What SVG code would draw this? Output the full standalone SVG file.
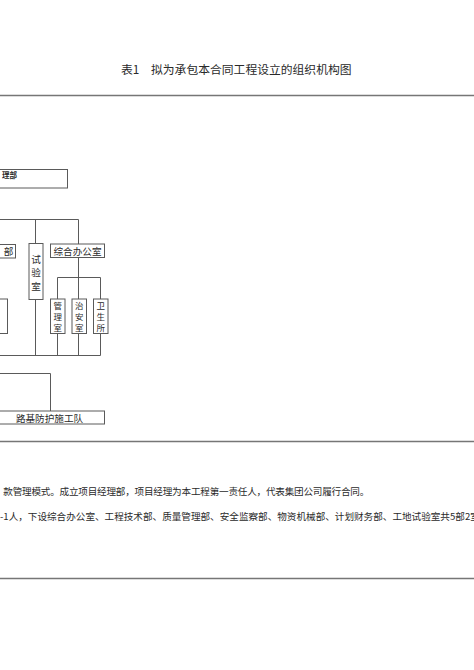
<svg xmlns="http://www.w3.org/2000/svg" width="474" height="670" viewBox="0 0 474 670">
<style>
.bg{fill:#fff}
.sep{stroke:#767676;stroke-width:1.6;fill:none}
.box{fill:#fff;stroke:#5a5a5a;stroke-width:1}
.ln{stroke:#5a5a5a;stroke-width:1;fill:none}
.t{font-family:"Noto Sans CJK SC","Noto Sans CJK JP",sans-serif;fill:#2a2a2a}
.title{font-size:11.8px}
.body{font-size:9.6px}
.lbl{font-size:9.6px;text-anchor:middle;dominant-baseline:central}
.vl{font-size:8.5px;text-anchor:middle;dominant-baseline:central}
.vb{font-size:9.6px;text-anchor:middle;dominant-baseline:central}
</style>
<rect class="bg" x="0" y="0" width="474" height="670"/>
<text class="t title" x="121" y="74">表1<tspan x="151">拟为承包本合同工程设立的组织机构图</tspan></text>
<g id="separators">
<line class="sep" x1="0" y1="95.5" x2="474" y2="95.5"/>
<line class="sep" x1="0" y1="441.5" x2="474" y2="441.5"/>
<line class="sep" x1="0" y1="578.5" x2="474" y2="578.5"/>
</g>
<g id="connectors">
<path class="ln" d="M0 219.5H78.5M35.5 219.5V243.5M78.5 219.5V244.5M78.5 257.5V299M57.5 277.5H100.5M57.5 277.5V299M100.5 277.5V299M35.5 299.5V355.5M57.5 333.5V355.5M78.5 333.5V355.5M100.5 333.5V355.5M0 355.5H100.5M0 373.5H50.5M50.5 373.5V411"/>
</g>
<g id="node-pm">
<rect class="box" x="-2" y="169.5" width="69.5" height="18.5"/>
<text class="t" x="17" y="178" font-size="7.5" font-weight="bold" text-anchor="end">理部</text>
</g>
<g id="node-dept-left">
<rect class="box" x="-30" y="244.5" width="45.5" height="13.5"/>
<text class="t lbl" x="8.5" y="251.3">部</text>
</g>
<g id="node-left-lower">
<rect class="box" x="-30" y="299" width="37.5" height="34.5"/>
</g>
<g id="node-lab">
<rect class="box" x="29" y="243.5" width="14" height="56"/>
<text class="t vb" x="36" y="259">试</text>
<text class="t vb" x="36" y="272.3">验</text>
<text class="t vb" x="36" y="285.6">室</text>
</g>
<g id="node-office">
<rect class="box" x="50.5" y="244" width="54" height="13.5"/>
<text class="t lbl" x="77.5" y="250.8">综合办公室</text>
</g>
<g id="node-mgmt">
<rect class="box" x="50.5" y="299" width="14.5" height="34.5"/>
<text class="t vl" x="57.8" y="305.4">管</text>
<text class="t vl" x="57.8" y="316.2">理</text>
<text class="t vl" x="57.8" y="327">室</text>
</g>
<g id="node-security">
<rect class="box" x="72" y="299" width="14.5" height="34.5"/>
<text class="t vl" x="79.2" y="305.4">治</text>
<text class="t vl" x="79.2" y="316.2">安</text>
<text class="t vl" x="79.2" y="327">室</text>
</g>
<g id="node-clinic">
<rect class="box" x="93.5" y="299" width="14.5" height="34.5"/>
<text class="t vl" x="100.8" y="305.4">卫</text>
<text class="t vl" x="100.8" y="316.2">生</text>
<text class="t vl" x="100.8" y="327">所</text>
</g>
<g id="node-team">
<rect class="box" x="-2" y="411" width="106.5" height="13"/>
<text class="t lbl" x="49.5" y="417.5">路基防护施工队</text>
</g>
<text class="t body" x="3.3" y="494.5" textLength="366" lengthAdjust="spacing">款管理模式。成立项目经理部，项目经理为本工程第一责任人，代表集团公司履行合同。</text>
<text class="t body" x="0" y="520">-1人，下设综合办公室、工程技术部、质量管理部、安全监察部、物资机械部、计划财务部、工地试验室共5部2室</text>
</svg>
